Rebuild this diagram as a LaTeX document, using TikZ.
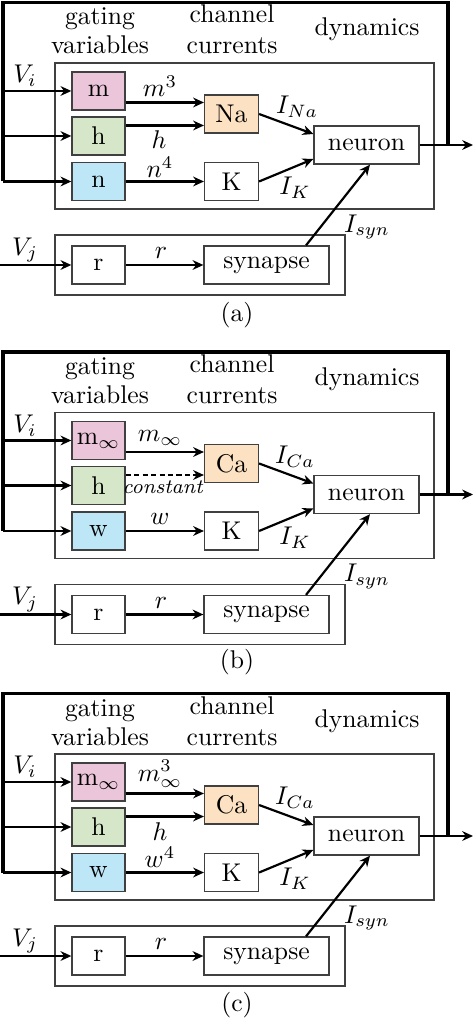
\documentclass[tikz,border=0pt]{standalone}
\usetikzlibrary{arrows.meta,calc}
\definecolor{cm}{HTML}{EBC5D9}
\definecolor{ch}{HTML}{D6E6C8}
\definecolor{cn}{HTML}{BDE6F7}
\definecolor{cna}{HTML}{FCE2C2}
\begin{document}
\begin{tikzpicture}[x=0.39pt,y=-0.39pt,
  box/.style={draw=black!75, line width=0.5pt, minimum height=14.8pt, inner sep=0pt},
  gate/.style={box, minimum width=20.7pt},
  chan/.style={box, minimum width=21pt},
  neubox/.style={box, minimum width=41pt},
  synbox/.style={box, minimum width=48.75pt},
  frame/.style={draw=black!75, line width=0.5pt},
  arr/.style={line width=0.85pt, -{Stealth[length=4.2pt,width=3.8pt]}},
  darr/.style={arr, dash pattern=on 2pt off 1.3pt},
  fb/.style={line width=1.3pt},
  lbl/.style={inner sep=0pt},
  title/.style={anchor=base, inner sep=0pt}]
\useasboundingbox (0,0) rectangle (474,1019);

% ================= panel (a) =================
\begin{scope}
\node[title] (a-t1) at (100,25) {gating};
\node[title] (a-t2) at (100,54) {variables};
\node[title] (a-t3) at (232,23) {channel};
\node[title] (a-t4) at (232,54) {currents};
\node[title] (a-t5) at (367,36) {dynamics};
\draw[frame] (55,63) rectangle (434,209);
\draw[frame] (55,235) rectangle (345,295);
\node[gate, fill=cm] (a-m) at (98.5,91) {m};
\node[gate, fill=ch] (a-h) at (98.5,136) {h};
\node[gate, fill=cn] (a-n) at (98.5,181.5) {n};
\node[chan, fill=cna] (a-na) at (231.5,114) {Na};
\node[chan] (a-k) at (231.5,181.5) {K};
\node[neubox] (a-neu) at (366.5,145) {neuron};
\node[gate] (a-r) at (98.5,265) {r};
\node[synbox] (a-syn) at (266.5,265) {synapse};
\coordinate (a-tl) at (3,2.5);
\coordinate (a-tr) at (448,2.5);
\coordinate (a-out) at (473,145);
\coordinate (a-vj) at (0,265);
\draw[fb] (a-n.west -| a-tl) |- (a-tr) -- (a-tr |- a-neu.east);
\draw[arr] (a-m.west -| a-tl) -- (a-m.west);
\draw[arr] (a-h.west -| a-tl) -- (a-h.west);
\draw[arr] (a-n.west -| a-tl) -- (a-n.west);
\draw[arr] (a-neu.east) -- (a-out);
\draw[arr] (a-vj) -- (a-r.west);
\draw[arr] (a-r) -- (a-syn);
\coordinate (a-na1) at ($(a-na.west)+(0,-11.5)$);
\coordinate (a-na2) at ($(a-na.west)+(0,11.5)$);
\draw[arr] (a-m.east |- a-na1) -- (a-na1);
\draw[arr] (a-h.east |- a-na2) -- (a-na2);
\draw[arr] (a-n) -- (a-k);
\draw[arr] (a-na.east) -- ($(a-neu.west)+(0,-11)$);
\draw[arr] (a-k.east) -- ($(a-neu.west)+(0,14)$);
\draw[arr] ($(a-syn.north)+(39.5,0)$) -- ($(a-neu.south)+(3.5,0)$);
\node[lbl] (a-vi) at (25,76) {$V_i$};
\node[lbl] (a-l1) at (160,86) {$m^3$};
\node[lbl] (a-l2) at (159,140) {$h$};
\node[lbl] (a-l3) at (160,167) {$n^4$};
\node[lbl] (a-l4) at (297,107) {$I_{Na}$};
\node[lbl] (a-l5) at (295,188) {$I_K$};
\node[lbl] (a-l6) at (367,227) {$I_{syn}$};
\node[lbl] (a-vjl) at (25,250) {$V_j$};
\node[lbl] (a-l7) at (161,253) {$r$};
\node[lbl] (a-cap) at (237,315) {(a)};
\end{scope}

% ================= panel (b) =================
\begin{scope}[shift={(0,349.5)}]
\node[title] (b-t1) at (100,25) {gating};
\node[title] (b-t2) at (100,54) {variables};
\node[title] (b-t3) at (232,23) {channel};
\node[title] (b-t4) at (232,54) {currents};
\node[title] (b-t5) at (367,36) {dynamics};
\draw[frame] (55,63) rectangle (434,209);
\draw[frame] (55,235) rectangle (345,295);
\node[gate, fill=cm] (b-m) at (98.5,91) {m$_\infty$};
\node[gate, fill=ch] (b-h) at (98.5,136) {h};
\node[gate, fill=cn] (b-n) at (98.5,181.5) {w};
\node[chan, fill=cna] (b-na) at (231.5,114) {Ca};
\node[chan] (b-k) at (231.5,181.5) {K};
\node[neubox] (b-neu) at (366.5,145) {neuron};
\node[gate] (b-r) at (98.5,265) {r};
\node[synbox] (b-syn) at (266.5,265) {synapse};
\coordinate (b-tl) at (3,2.5);
\coordinate (b-tr) at (448,2.5);
\coordinate (b-out) at (473,145);
\coordinate (b-vj) at (0,265);
\draw[fb] (b-n.west -| b-tl) |- (b-tr) -- (b-tr |- b-neu.east);
\draw[arr] (b-m.west -| b-tl) -- (b-m.west);
\draw[arr] (b-h.west -| b-tl) -- (b-h.west);
\draw[arr] (b-n.west -| b-tl) -- (b-n.west);
\draw[arr] (b-neu.east) -- (b-out);
\draw[arr] (b-vj) -- (b-r.west);
\draw[arr] (b-r) -- (b-syn);
\coordinate (b-na1) at ($(b-na.west)+(0,-11.5)$);
\coordinate (b-na2) at ($(b-na.west)+(0,11.5)$);
\draw[arr] (b-m.east |- b-na1) -- (b-na1);
\draw[darr] (b-h.east |- b-na2) -- (b-na2);
\draw[arr] (b-n) -- (b-k);
\draw[arr] (b-na.east) -- ($(b-neu.west)+(0,-11)$);
\draw[arr] (b-k.east) -- ($(b-neu.west)+(0,14)$);
\draw[arr] ($(b-syn.north)+(39.5,0)$) -- ($(b-neu.south)+(3.5,0)$);
\node[lbl] (b-vi) at (25,76) {$V_i$};
\node[lbl] (b-l1) at (160,88.5) {$m_\infty$};
\node[lbl] (b-l2) at (163,137.5) {\footnotesize\textit{constant}};
\node[lbl] (b-l3) at (160,169) {$w$};
\node[lbl] (b-l4) at (295,107) {$I_{Ca}$};
\node[lbl] (b-l5) at (295,188) {$I_K$};
\node[lbl] (b-l6) at (367,227) {$I_{syn}$};
\node[lbl] (b-vjl) at (25,250) {$V_j$};
\node[lbl] (b-l7) at (161,253) {$r$};
\node[lbl] (b-cap) at (237,313) {(b)};
\end{scope}

% ================= panel (c) =================
\begin{scope}[shift={(0,691)}]
\node[title] (c-t1) at (100,25) {gating};
\node[title] (c-t2) at (100,54) {variables};
\node[title] (c-t3) at (232,23) {channel};
\node[title] (c-t4) at (232,54) {currents};
\node[title] (c-t5) at (367,36) {dynamics};
\draw[frame] (55,63) rectangle (434,209);
\draw[frame] (55,235) rectangle (345,295);
\node[gate, fill=cm] (c-m) at (98.5,91) {m$_\infty$};
\node[gate, fill=ch] (c-h) at (98.5,136) {h};
\node[gate, fill=cn] (c-n) at (98.5,181.5) {w};
\node[chan, fill=cna] (c-na) at (231.5,114) {Ca};
\node[chan] (c-k) at (231.5,181.5) {K};
\node[neubox] (c-neu) at (366.5,145) {neuron};
\node[gate] (c-r) at (98.5,265) {r};
\node[synbox] (c-syn) at (266.5,265) {synapse};
\coordinate (c-tl) at (3,2.5);
\coordinate (c-tr) at (448,2.5);
\coordinate (c-out) at (473,145);
\coordinate (c-vj) at (0,265);
\draw[fb] (c-n.west -| c-tl) |- (c-tr) -- (c-tr |- c-neu.east);
\draw[arr] (c-m.west -| c-tl) -- (c-m.west);
\draw[arr] (c-h.west -| c-tl) -- (c-h.west);
\draw[arr] (c-n.west -| c-tl) -- (c-n.west);
\draw[arr] (c-neu.east) -- (c-out);
\draw[arr] (c-vj) -- (c-r.west);
\draw[arr] (c-r) -- (c-syn);
\coordinate (c-na1) at ($(c-na.west)+(0,-11.5)$);
\coordinate (c-na2) at ($(c-na.west)+(0,11.5)$);
\draw[arr] (c-m.east |- c-na1) -- (c-na1);
\draw[arr] (c-h.east |- c-na2) -- (c-na2);
\draw[arr] (c-n) -- (c-k);
\draw[arr] (c-na.east) -- ($(c-neu.west)+(0,-11)$);
\draw[arr] (c-k.east) -- ($(c-neu.west)+(0,14)$);
\draw[arr] ($(c-syn.north)+(39.5,0)$) -- ($(c-neu.south)+(3.5,0)$);
\node[lbl] (c-vi) at (25,76) {$V_i$};
\node[lbl] (c-l1) at (160,83) {$m^3_\infty$};
\node[lbl] (c-l2) at (160,140.5) {$h$};
\node[lbl] (c-l3) at (160,166) {$w^4$};
\node[lbl] (c-l4) at (295,107) {$I_{Ca}$};
\node[lbl] (c-l5) at (295,188) {$I_K$};
\node[lbl] (c-l6) at (367,227) {$I_{syn}$};
\node[lbl] (c-vjl) at (25,250) {$V_j$};
\node[lbl] (c-l7) at (161,253) {$r$};
\node[lbl] (c-cap) at (237,314) {(c)};
\end{scope}
\end{tikzpicture}
\end{document}
